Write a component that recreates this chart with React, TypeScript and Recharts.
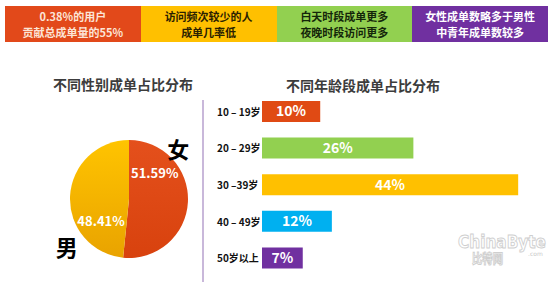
import { PieChart, Pie, Cell, BarChart, Bar, XAxis, YAxis, LabelList } from 'recharts'

const banners = [
  ['0.38%的用户', '贡献总成单量的55%'],
  ['访问频次较少的人', '成单几率低'],
  ['白天时段成单更多', '夜晚时段访问更多'],
  ['女性成单数略多于男性', '中青年成单数较多'],
]
const bannerFill = ['#E2491A', '#FFC000', '#92D050', '#7030A0']
const bannerInk = ['#FCE4D6', '#2B2200', '#14260A', '#FFFFFF']

const genders = ['女', '男']
const genderShare = [51.59, 48.41]

const ageGroups = ['10 – 19岁', '20 – 29岁', '30 –39岁', '40 – 49岁', '50岁以上']
const ageShare = [10, 26, 44, 12, 7]
const ageFill = ['#E04A14', '#92D050', '#FFC000', '#00B0F0', '#7030A0']

const genderData = genders.map((g, i) => ({ name: g, value: genderShare[i] }))
const ageData = ageGroups.map((a, i) => ({ name: a, value: ageShare[i] }))

const font = '"Noto Sans CJK SC", "Noto Sans", sans-serif'

const RAD = Math.PI / 180

function PieLabel(props: any) {
  const { cx, cy, index, value } = props
  // labels sit off the slice middles in the original
  const angle = index === 0 ? 46 : 217
  const inner = index === 0 ? 37 : 35
  const outer = index === 0 ? 71 : 78
  const ix = cx + inner * Math.cos(angle * RAD)
  const iy = cy - inner * Math.sin(angle * RAD)
  const ox = cx + outer * Math.cos(angle * RAD)
  const oy = cy - outer * Math.sin(angle * RAD)
  return (
    <g>
      <text x={ix} y={iy} fill="#fff" fontSize={13} fontWeight={700} textAnchor="middle" dominantBaseline="central" fontFamily={font}>
        {value.toFixed(2)}%
      </text>
      <text x={ox} y={oy} fill="#000" fontSize={22} fontWeight={700} textAnchor="middle" dominantBaseline="central" fontFamily={font}>
        {genders[index]}
      </text>
    </g>
  )
}

function AgeTick(props: any) {
  const { y, payload } = props
  return (
    <text x={217} y={y} fill="#111" fontSize={10} fontWeight={700} dominantBaseline="central" fontFamily={font}>
      {payload.value}
    </text>
  )
}

export default function App() {
  return (
    <div style={{ position: 'absolute', left: 0, top: 0, width: 553, height: 282, background: '#fff', fontFamily: font, overflow: 'hidden' }}>
      <div style={{ position: 'absolute', left: 5, top: 6, width: 543, height: 36, display: 'flex' }}>
        {banners.map((lines, i) => (
          <div key={i} style={{ flex: 1, background: bannerFill[i], color: bannerInk[i], fontSize: 11, fontWeight: 700, lineHeight: '16px', textAlign: 'center', paddingTop: 2 }}>
            <div>{lines[0]}</div>
            <div>{lines[1]}</div>
          </div>
        ))}
      </div>

      <div style={{ position: 'absolute', left: 20, top: 74, width: 206, textAlign: 'center', fontSize: 14, fontWeight: 700, color: '#3c3c3c' }}>
        不同性别成单占比分布
      </div>
      <div style={{ position: 'absolute', left: 263, top: 75, width: 200, textAlign: 'center', fontSize: 14, fontWeight: 700, color: '#3c3c3c' }}>
        不同年龄段成单占比分布
      </div>

      <div style={{ position: 'absolute', left: 202, top: 100, width: 2, height: 182, background: '#C9B8DA' }} />

      <svg style={{ position: 'absolute', left: 0, top: 0 }} width={553} height={282}>
        <text x={458} y={248} fontSize={18} fontWeight={700} fill="#fff" stroke="#CFCFCF" strokeWidth={1} textLength={88} lengthAdjust="spacingAndGlyphs" fontFamily="DejaVu Sans, sans-serif">
          ChinaByte
        </text>
        <text x={472} y={263} fontSize={13} fontWeight={700} fill="#fff" stroke="#CFCFCF" strokeWidth={1} textLength={31} lengthAdjust="spacingAndGlyphs" fontFamily={font}>
          比特网
        </text>
        <text x={528} y={256} fontSize={6} fill="#C8C8C8" fontFamily="DejaVu Sans, sans-serif">
          .com
        </text>
      </svg>

      <div style={{ position: 'absolute', left: 0, top: 60 }}>
        <PieChart width={230} height={222}>
          <defs>
            <linearGradient id="gF" x1="0" y1="0" x2="0" y2="1">
              <stop offset="0%" stopColor="#E4501C" />
              <stop offset="100%" stopColor="#D8420E" />
            </linearGradient>
            <linearGradient id="gM" x1="0" y1="0" x2="0" y2="1">
              <stop offset="0%" stopColor="#FFC400" />
              <stop offset="100%" stopColor="#E9A300" />
            </linearGradient>
          </defs>
          <Pie
            data={genderData}
            dataKey="value"
            cx={124}
            cy={134}
            outerRadius={59}
            startAngle={90}
            endAngle={-270}
            stroke="none"
            label={PieLabel}
            labelLine={false}
            isAnimationActive={false}
          >
            <Cell fill="url(#gF)" />
            <Cell fill="url(#gM)" />
          </Pie>
        </PieChart>
      </div>

      <div style={{ position: 'absolute', left: 0, top: 0 }}>
        <BarChart width={553} height={282} data={ageData} layout="vertical" margin={{ top: 93, right: 29, bottom: 6, left: 217 }}>
          <XAxis type="number" hide domain={[0, 45]} />
          <YAxis type="category" dataKey="name" width={45} axisLine={false} tickLine={false} tick={AgeTick} />
          <Bar dataKey="value" barSize={21} isAnimationActive={false}>
            {ageData.map((d, i) => (
              <Cell key={d.name} fill={ageFill[i]} />
            ))}
            <LabelList dataKey="value" position="center" formatter={(v: any) => `${v}%`} fill="#fff" fontSize={14} fontWeight={700} fontFamily={font} />
          </Bar>
        </BarChart>
      </div>
    </div>
  )
}
